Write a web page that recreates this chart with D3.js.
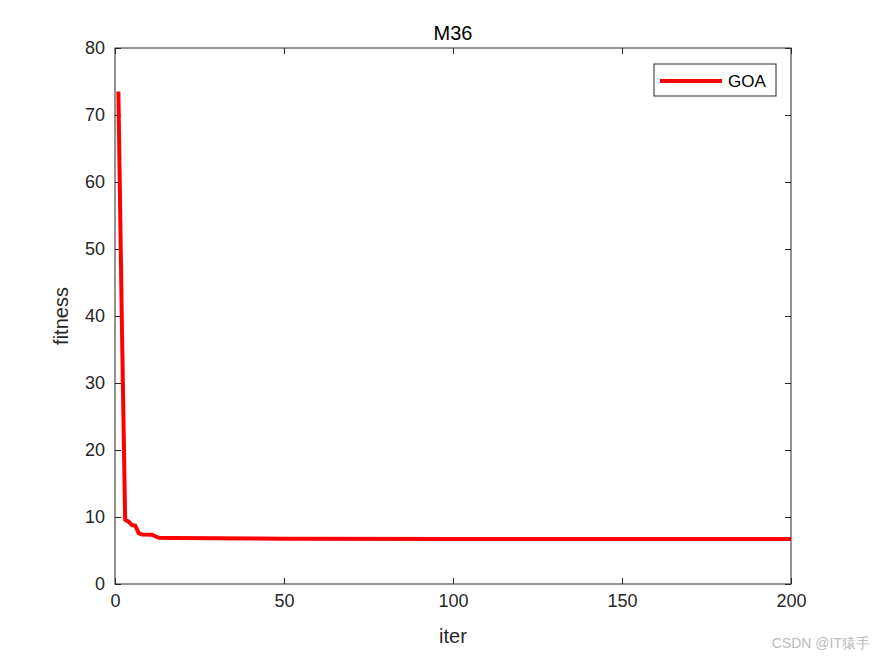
<!DOCTYPE html><html><head><script src="https://cdn.jsdelivr.net/npm/d3@7"></script>
<style>body{margin:0;background:#fff}text{font-family:Arial,"Liberation Sans",sans-serif}</style></head><body><svg width="875" height="656"></svg>
<script>
const xTicks=[0,50,100,150,200];
const yTicks=[0,10,20,30,40,50,60,70,80];
const keyIters=[1,2,3,4,5,6,7,8,11,12,13,17,30,50,100,200];
const keyVals=[73.5,40,9.6,9.3,8.8,8.7,7.6,7.4,7.35,7.1,6.9,6.85,6.82,6.75,6.72,6.7];
const svg=d3.select("svg");
const x=d3.scaleLinear().domain([0,200]).range([115,791]);
const y=d3.scaleLinear().domain([0,80]).range([584,48]);
svg.append("rect").attr("x",115).attr("y",48).attr("width",676).attr("height",536).attr("fill","#fff").attr("stroke","#262626");
const ga=svg.append("g").attr("transform","translate(0,584)").call(d3.axisBottom(x).tickValues(xTicks).tickSize(-6).tickPadding(10));
const gt=svg.append("g").attr("transform","translate(0,48)").call(d3.axisTop(x).tickValues(xTicks).tickSize(-6).tickFormat(""));
const gl=svg.append("g").attr("transform","translate(115,0)").call(d3.axisLeft(y).tickValues(yTicks).tickSize(-6).tickPadding(10));
const gr=svg.append("g").attr("transform","translate(791,0)").call(d3.axisRight(y).tickValues(yTicks).tickSize(-6).tickFormat(""));
[ga,gt,gl,gr].forEach(g=>{g.select(".domain").remove();g.selectAll("line").attr("stroke","#262626");g.selectAll("text").attr("fill","#262626").style("font-size","18px").style("font-family","Arial,'Liberation Sans',sans-serif");});
const line=d3.line().x(d=>x(d[0])).y(d=>y(d[1]));
svg.append("path").datum(keyIters.map((d,i)=>[d,keyVals[i]])).attr("d",line).attr("fill","none").attr("stroke","#f00").attr("stroke-width",4);
svg.append("text").attr("x",453).attr("y",40).attr("text-anchor","middle").style("font-size","20px").attr("fill","#000").text("M36");
svg.append("text").attr("x",453).attr("y",643).attr("text-anchor","middle").style("font-size","20px").attr("fill","#262626").text("iter");
svg.append("text").attr("transform","translate(68,316) rotate(-90)").attr("text-anchor","middle").style("font-size","20px").attr("fill","#262626").text("fitness");
const lg=svg.append("g");
lg.append("rect").attr("x",654).attr("y",64).attr("width",122).attr("height",32).attr("fill","#fff").attr("stroke","#262626");
lg.append("line").attr("x1",660).attr("x2",722).attr("y1",81).attr("y2",81).attr("stroke","#f00").attr("stroke-width",4);
lg.append("text").attr("x",728).attr("y",87).style("font-size","17px").attr("fill","#000").text("GOA");
svg.append("text").attr("x",870).attr("y",648).attr("text-anchor","end").style("font-size","14px").attr("fill","#bbb").text("CSDN @IT猿手");
</script></body></html>
